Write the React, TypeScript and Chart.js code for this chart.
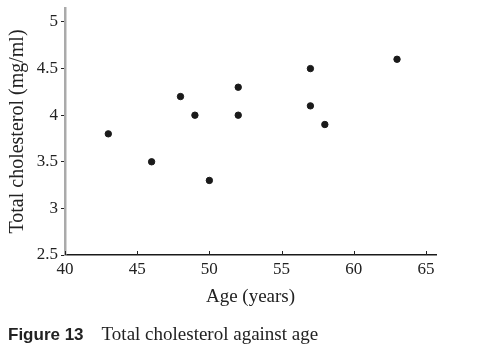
import React, { useEffect, useRef } from "react";
import { Chart, registerables } from "chart.js";

Chart.register(...registerables);

const ages = [43, 46, 48, 49, 50, 52, 52, 57, 57, 58, 63];
const cholesterol = [3.8, 3.5, 4.2, 4.0, 3.3, 4.3, 4.0, 4.5, 4.1, 3.9, 4.6];
const xTicks = [40, 45, 50, 55, 60, 65];
const yTicks = [2.5, 3, 3.5, 4, 4.5, 5];

const SERIF = "'Liberation Serif', 'DejaVu Serif', serif";

const innerXTicks = {
  id: "innerXTicks",
  afterDraw(chart: any) {
    const ctx = chart.ctx;
    const xs = chart.scales.x;
    const bottom = chart.chartArea.bottom;
    ctx.save();
    ctx.strokeStyle = "#222";
    ctx.lineWidth = 1;
    xTicks.forEach((v) => {
      const px = Math.round(xs.getPixelForValue(v)) + 0.5;
      ctx.beginPath();
      ctx.moveTo(px, bottom);
      ctx.lineTo(px, bottom - 4);
      ctx.stroke();
    });
    ctx.restore();
  },
};

export default function App() {
  const ref = useRef<HTMLCanvasElement>(null);
  useEffect(() => {
    const prevMargin = document.body.style.margin;
    document.body.style.margin = "0";
    const chart = new Chart(ref.current!, {
      type: "scatter",
      data: {
        datasets: [
          {
            data: ages.map((a, i) => ({ x: a, y: cholesterol[i] })),
            backgroundColor: "#1a1a1a",
            borderColor: "#1a1a1a",
            pointRadius: 3.2,
          },
        ],
      },
      options: {
        animation: false,
        responsive: false,
        maintainAspectRatio: false,
        layout: { padding: { left: 0, top: 8, right: 55, bottom: 40 } },
        plugins: { legend: { display: false }, tooltip: { enabled: false } },
        scales: {
          x: {
            type: "linear",
            min: 40,
            max: 65.7,
            afterBuildTicks: (s: any) => {
              s.ticks = xTicks.map((v) => ({ value: v }));
            },
            afterFit: (s: any) => {
              s.height = 60;
              s.paddingLeft = 0;
              s.paddingRight = 0;
            },
            ticks: {
              includeBounds: false,
              padding: 4,
              color: "#222",
              font: { family: SERIF, size: 17 },
              maxRotation: 0,
              autoSkip: false,
              callback: (v: any) => String(v),
            },
            grid: { display: true, drawOnChartArea: false, drawTicks: false },
            border: { display: true, color: "#1a1a1a", width: 1.5 },
            title: {
              display: true,
              text: "Age (years)",
              color: "#222",
              font: { family: SERIF, size: 19 },
              padding: { top: 0, bottom: 7 },
            },
          },
          y: {
            type: "linear",
            min: 2.5,
            max: 5.15,
            afterBuildTicks: (s: any) => {
              s.ticks = yTicks.map((v) => ({ value: v }));
            },
            afterFit: (s: any) => {
              s.width = 65;
              s.paddingTop = 0;
              s.paddingBottom = 0;
            },
            ticks: {
              includeBounds: false,
              padding: 3,
              color: "#222",
              font: { family: SERIF, size: 17 },
              autoSkip: false,
              callback: (v: any) => String(v),
            },
            grid: {
              display: true,
              drawOnChartArea: false,
              drawTicks: true,
              tickLength: 4,
              tickColor: "#222",
              tickWidth: 1,
            },
            border: { display: true, color: "#aaaaaa", width: 2.5 },
            title: {
              display: true,
              text: "Total cholesterol (mg/ml)",
              color: "#222",
              font: { family: SERIF, size: 20 },
              padding: { top: 6, bottom: 0 },
            },
          },
        },
      },
      plugins: [innerXTicks],
    });
    return () => {
      chart.destroy();
      document.body.style.margin = prevMargin;
    };
  }, []);

  return (
    <div style={{ position: "relative", width: 491, height: 355, background: "#fff" }}>
      <canvas ref={ref} width={491} height={355} style={{ position: "absolute", left: 0, top: 0 }} />
      <div
        style={{
          position: "absolute",
          left: 8,
          top: 323,
          whiteSpace: "nowrap",
          color: "#222",
          lineHeight: "22px",
        }}
      >
        <span style={{ fontFamily: "'Liberation Sans', Arial, sans-serif", fontWeight: "bold", fontSize: 17 }}>
          Figure 13
        </span>
        <span style={{ fontFamily: SERIF, fontSize: 19, marginLeft: 18 }}>
          Total cholesterol against age
        </span>
      </div>
    </div>
  );
}
